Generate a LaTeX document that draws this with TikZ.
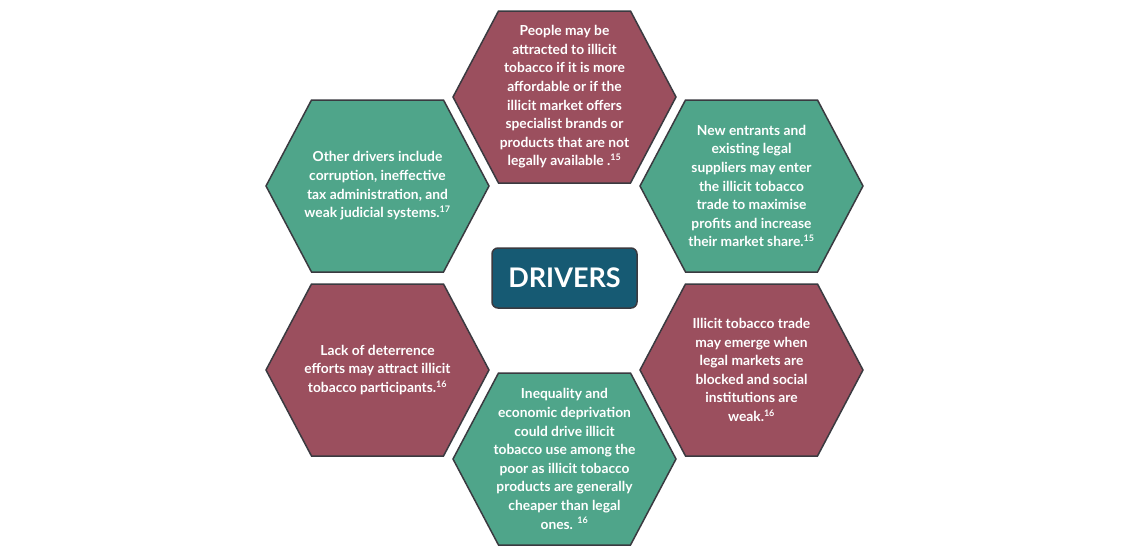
\documentclass[tikz,border=0pt]{standalone}
\usepackage{fontspec}
\setmainfont{Lato}
\definecolor{maroon}{HTML}{9B4F5E}
\definecolor{teal}{HTML}{4FA58A}
\definecolor{navy}{HTML}{165A73}
\definecolor{edge}{HTML}{3A3A40}
\newcommand\hexshape[3]{%
  \filldraw[hexline,fill=#3] ($(#1,#2)+(-111.5,0)$) -- ($(#1,#2)+(-66,-86)$) -- ($(#1,#2)+(66,-86)$) -- ($(#1,#2)+(111.5,0)$) -- ($(#1,#2)+(66,86)$) -- ($(#1,#2)+(-66,86)$) -- cycle;}
\newcommand\sref[1]{\textsuperscript{\fontsize{9}{9}\selectfont\bfseries #1}}
\usetikzlibrary{calc}
\begin{document}
\begin{tikzpicture}[x=1pt,y=-1pt,
  hexline/.style={draw=edge,line width=1.5pt,line join=miter},
  hextext/.style={text=white,align=center,font=\fontsize{13.8}{18.6}\selectfont\bfseries,inner sep=0pt}]
\useasboundingbox (0,0) rectangle (1128,557);
\fill[white] (0,0) rectangle (1128,557);
\hexshape{564.5}{97}{maroon}
\hexshape{377.5}{186}{teal}
\hexshape{751.5}{186}{teal}
\hexshape{377.5}{370}{maroon}
\hexshape{751.5}{370}{maroon}
\hexshape{564.5}{459}{teal}
\node[hextext] (top) at (564.5,97) {People may be\\attracted to illicit\\tobacco if it is more\\affordable or if the\\illicit market offers\\specialist brands or\\products that are not\\legally available .\sref{15}};
\node[hextext] (ul) at (377.5,186) {Other drivers include\\corruption, ineffective\\tax administration, and\\weak judicial systems.\sref{17}};
\node[hextext] (ur) at (751.5,186) {New entrants and\\existing legal\\suppliers may enter\\the illicit tobacco\\trade to maximise\\profits and increase\\their market share.\sref{15}};
\node[hextext] (ll) at (377.5,370) {Lack of deterrence\\efforts may attract illicit\\tobacco participants.\sref{16}};
\node[hextext] (lr) at (751.5,370) {Illicit tobacco trade\\may emerge when\\legal markets are\\blocked and social\\institutions are\\weak.\sref{16}};
\node[hextext] (bot) at (564.5,459) {Inequality and\\economic deprivation\\could drive illicit\\tobacco use among the\\poor as illicit tobacco\\products are generally\\cheaper than legal\\ones. \sref{16}};
\node[draw=edge,line width=1.5pt,fill=navy,rounded corners=6pt,minimum width=145pt,minimum height=60pt,inner sep=0pt,text=white,font=\fontsize{27}{27}\selectfont\bfseries] (drivers) at (564.5,278) {DRIVERS};
\end{tikzpicture}
\end{document}
